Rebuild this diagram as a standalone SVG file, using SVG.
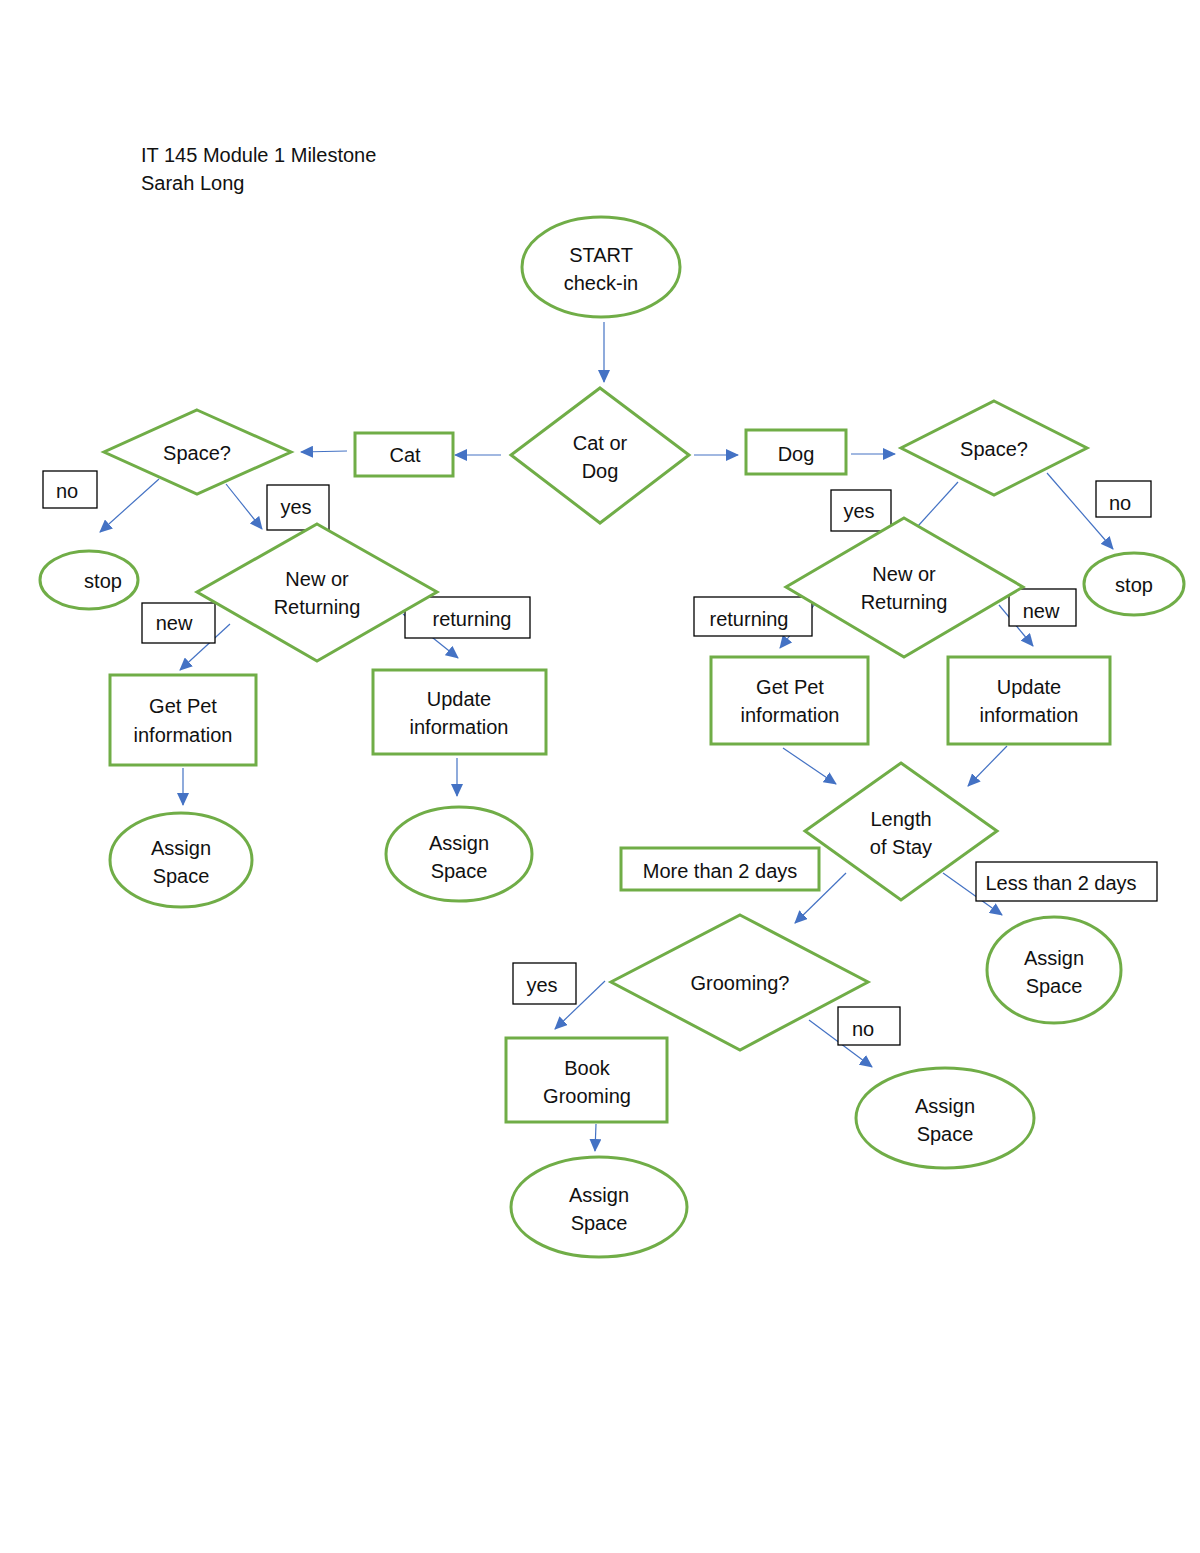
<svg xmlns="http://www.w3.org/2000/svg" width="1200" height="1553" viewBox="0 0 1200 1553">
<defs>
<marker id="ah" markerWidth="13" markerHeight="12" refX="12" refY="6" orient="auto" markerUnits="userSpaceOnUse">
<path d="M0,0 L13,6 L0,12 Z" fill="#4472C4"/>
</marker>
<style>
.g{fill:#fff;stroke:#70AD47;stroke-width:3}
.b{fill:#fff;stroke:#000;stroke-width:1.3}
.t{font-family:"Liberation Sans",Arial,sans-serif;font-size:20px;fill:#111;text-anchor:middle}
.tl{font-family:"Liberation Sans",Arial,sans-serif;font-size:20px;fill:#111}
.c line{stroke:#4472C4;stroke-width:1.2;fill:none}
.c .a{marker-end:url(#ah)}
</style>
</defs>
<rect width="1200" height="1553" fill="#fff"/>
<g id="title">
<text class="tl" x="141" y="162">IT 145 Module 1 Milestone</text>
<text class="tl" x="141" y="190">Sarah Long</text>
</g>
<g class="c" id="connectors">
<line class="a" x1="604" y1="322" x2="604" y2="382"/>
<line class="a" x1="501" y1="455" x2="455" y2="455"/>
<line class="a" x1="347" y1="451" x2="301" y2="452"/>
<line class="a" x1="159" y1="479" x2="100" y2="532"/>
<line class="a" x1="226" y1="484" x2="262" y2="529"/>
<line class="a" x1="230" y1="624" x2="180" y2="670"/>
<line class="a" x1="403" y1="614" x2="458" y2="658"/>
<line class="a" x1="183" y1="768" x2="183" y2="805"/>
<line class="a" x1="457" y1="758" x2="457" y2="796"/>
<line class="a" x1="694" y1="455" x2="738" y2="455"/>
<line class="a" x1="851" y1="454" x2="895" y2="454"/>
<line x1="958" y1="482" x2="918" y2="526"/>
<line class="a" x1="1047" y1="473" x2="1113" y2="549"/>
<line class="a" x1="815" y1="604" x2="780" y2="648"/>
<line class="a" x1="999" y1="605" x2="1033" y2="646"/>
<line class="a" x1="783" y1="748" x2="836" y2="784"/>
<line class="a" x1="1007" y1="746" x2="968" y2="786"/>
<line class="a" x1="846" y1="873" x2="795" y2="923"/>
<line class="a" x1="943" y1="873" x2="1002" y2="915"/>
<line class="a" x1="605" y1="981" x2="555" y2="1029"/>
<line class="a" x1="809" y1="1020" x2="872" y2="1067"/>
<line class="a" x1="596" y1="1124" x2="595" y2="1151"/>
</g>
<g id="noL"><rect class="b" x="43" y="471" width="54" height="37"/><text class="t" x="67" y="498">no</text></g>
<g id="yesL"><rect class="b" x="267" y="485" width="62" height="45"/><text class="t" x="296" y="514">yes</text></g>
<g id="newL"><rect class="b" x="142" y="603" width="73" height="40"/><text class="t" x="174" y="630">new</text></g>
<g id="retL"><rect class="b" x="405" y="597" width="125" height="41"/><text class="t" x="472" y="626">returning</text></g>
<g id="yesR"><rect class="b" x="831" y="490" width="60" height="41"/><text class="t" x="859" y="518">yes</text></g>
<g id="noR"><rect class="b" x="1096" y="481" width="55" height="36"/><text class="t" x="1120" y="510">no</text></g>
<g id="retR"><rect class="b" x="694" y="597" width="118" height="39"/><text class="t" x="749" y="626">returning</text></g>
<g id="newR"><rect class="b" x="1009" y="589" width="67" height="37"/><text class="t" x="1041" y="618">new</text></g>
<g id="less"><rect class="b" x="976" y="862" width="181" height="39"/><text class="t" x="1061" y="890">Less than 2 days</text></g>
<g id="yesG"><rect class="b" x="513" y="963" width="63" height="41"/><text class="t" x="542" y="992">yes</text></g>
<g id="noG"><rect class="b" x="838" y="1007" width="62" height="38"/><text class="t" x="863" y="1036">no</text></g>
<g id="start"><ellipse class="g" cx="601" cy="267" rx="79" ry="50"/><text class="t" x="601" y="262">START</text><text class="t" x="601" y="290">check-in</text></g>
<g id="catordog"><polygon class="g" points="600,388 689,455 600,523 511,455"/><text class="t" x="600" y="450">Cat or</text><text class="t" x="600" y="478">Dog</text></g>
<g id="cat"><rect class="g" x="355" y="433" width="98" height="43"/><text class="t" x="405" y="462">Cat</text></g>
<g id="dog"><rect class="g" x="746" y="430" width="100" height="44"/><text class="t" x="796" y="461">Dog</text></g>
<g id="spaceL"><polygon class="g" points="197,410 291,452 197,494 104,452"/><text class="t" x="197" y="460">Space?</text></g>
<g id="stopL"><ellipse class="g" cx="89" cy="580" rx="49" ry="29"/><text class="t" x="103" y="588">stop</text></g>
<g id="nrL"><polygon class="g" points="317,524 437,592 317,661 197,592"/><text class="t" x="317" y="586">New or</text><text class="t" x="317" y="614">Returning</text></g>
<g id="getpetL"><rect class="g" x="110" y="675" width="146" height="90"/><text class="t" x="183" y="713">Get Pet</text><text class="t" x="183" y="742">information</text></g>
<g id="assignL1"><ellipse class="g" cx="181" cy="860" rx="71" ry="47"/><text class="t" x="181" y="855">Assign</text><text class="t" x="181" y="883">Space</text></g>
<g id="updateL"><rect class="g" x="373" y="670" width="173" height="84"/><text class="t" x="459" y="706">Update</text><text class="t" x="459" y="734">information</text></g>
<g id="assignL2"><ellipse class="g" cx="459" cy="854" rx="73" ry="47"/><text class="t" x="459" y="850">Assign</text><text class="t" x="459" y="878">Space</text></g>
<g id="spaceR"><polygon class="g" points="994,401 1087,448 994,495 901,448"/><text class="t" x="994" y="456">Space?</text></g>
<g id="stopR"><ellipse class="g" cx="1134" cy="584" rx="50" ry="31"/><text class="t" x="1134" y="592">stop</text></g>
<g id="nrR"><polygon class="g" points="904,518 1023,587 904,657 786,587"/><text class="t" x="904" y="581">New or</text><text class="t" x="904" y="609">Returning</text></g>
<g id="getpetR"><rect class="g" x="711" y="657" width="157" height="87"/><text class="t" x="790" y="694">Get Pet</text><text class="t" x="790" y="722">information</text></g>
<g id="updateR"><rect class="g" x="948" y="657" width="162" height="87"/><text class="t" x="1029" y="694">Update</text><text class="t" x="1029" y="722">information</text></g>
<g id="los"><polygon class="g" points="901,763 997,831 901,900 805,831"/><text class="t" x="901" y="826">Length</text><text class="t" x="901" y="854">of Stay</text></g>
<g id="more"><rect class="g" x="621" y="848" width="198" height="42"/><text class="t" x="720" y="878">More than 2 days</text></g>
<g id="assignR1"><ellipse class="g" cx="1054" cy="970" rx="67" ry="53"/><text class="t" x="1054" y="965">Assign</text><text class="t" x="1054" y="993">Space</text></g>
<g id="grooming"><polygon class="g" points="740,915 868,982 740,1050 611,982"/><text class="t" x="740" y="990">Grooming?</text></g>
<g id="book"><rect class="g" x="506" y="1038" width="161" height="84"/><text class="t" x="587" y="1075">Book</text><text class="t" x="587" y="1103">Grooming</text></g>
<g id="assignB1"><ellipse class="g" cx="599" cy="1207" rx="88" ry="50"/><text class="t" x="599" y="1202">Assign</text><text class="t" x="599" y="1230">Space</text></g>
<g id="assignB2"><ellipse class="g" cx="945" cy="1118" rx="89" ry="50"/><text class="t" x="945" y="1113">Assign</text><text class="t" x="945" y="1141">Space</text></g>
</svg>
